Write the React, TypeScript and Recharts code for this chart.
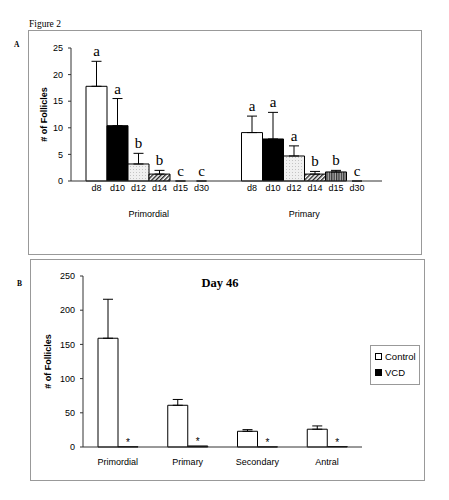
import React from 'react'
import { BarChart, Bar, XAxis, YAxis, ErrorBar, LabelList, Legend, Cell } from 'recharts'

// panel A: follicles by day of dosing
const groupsA = ['Primordial', 'Primary']
const days = ['d8', 'd10', 'd12', 'd14', 'd15', 'd30']
const primordialMean = [17.8, 10.4, 3.2, 1.3, 0, 0]
const primordialSem = [4.7, 5.1, 2.0, 0.7, 0, 0]
const primordialLetters = ['a', 'a', 'b', 'b', 'c', 'c']
const primaryMean = [9.1, 7.9, 4.7, 1.3, 1.7, 0]
const primarySem = [3.1, 5.0, 1.9, 0.5, 0.3, 0]
const primaryLetters = ['a', 'a', 'a', 'b', 'b', 'c']
const ticksA = [0, 5, 10, 15, 20, 25]

// panel B: day 46
const stagesB = ['Primordial', 'Primary', 'Secondary', 'Antral']
const controlMean = [159, 61, 23, 26]
const controlSem = [57, 8.5, 2.4, 4.8]
const vcdMean = [0.4, 1.5, 0.2, 0.7]
const ticksB = [0, 50, 100, 150, 200, 250]

const dayFills = ['#ffffff', '#000000', 'url(#dots)', 'url(#diag)', 'url(#vert)', '#ffffff']

const sans = '"Liberation Sans", Arial, sans-serif'
const serif = '"Liberation Serif", "Times New Roman", serif'
const axisColor = '#333'

const dataA = groupsA.map((g, gi) => {
  const mean = gi === 0 ? primordialMean : primaryMean
  const sem = gi === 0 ? primordialSem : primarySem
  const letters = gi === 0 ? primordialLetters : primaryLetters
  const row: Record<string, any> = { group: g }
  days.forEach((d, i) => {
    row[`m_${d}`] = mean[i]
    row[`e_${d}`] = [0, sem[i]]
    row[`t_${d}`] = sem[i]
    row[`l_${d}`] = letters[i]
  })
  return row
})

const dataB = stagesB.map((s, i) => ({
  stage: s,
  control: controlMean[i],
  controlErr: [0, controlSem[i]],
  vcd: vcdMean[i],
}))

// category boundaries, for the little tick marks between groups
const boundsA = groupsA.map((_, i) => i + 1)
const boundsB = stagesB.map((_, i) => i + 1)

const axisTick = { fontSize: 9, fontFamily: sans, fill: '#000' }

const YLabel = ({ viewBox, dx }: any) => {
  const cx = viewBox.x + dx
  const cy = viewBox.y + viewBox.height / 2
  return (
    <text
      x={cx}
      y={cy}
      transform={`rotate(-90 ${cx} ${cy})`}
      textAnchor="middle"
      dominantBaseline="central"
      fontSize={9}
      fontWeight="bold"
      fontFamily={sans}
      fill="#000"
    >
      # of Follicles
    </text>
  )
}

const GroupTick = ({ x, y, payload, dy }: any) => (
  <text x={x} y={y} dy={dy} textAnchor="middle" fontSize={9} fontFamily={sans} fill="#000">
    {payload.value}
  </text>
)

const LegendBox = () => (
  <div
    style={{
      border: '1px solid #999',
      padding: '3px 3px 3px 4px',
      fontFamily: sans,
      fontSize: 9.5,
      lineHeight: '16px',
      background: '#fff',
    }}
  >
    <div>
      <span style={{ display: 'inline-block', width: 5, height: 5, border: '1px solid #000', marginRight: 3 }} />
      Control
    </div>
    <div>
      <span style={{ display: 'inline-block', width: 7, height: 7, background: '#000', marginRight: 3 }} />
      VCD
    </div>
  </div>
)

export default function App() {
  return (
    <div style={{ position: 'absolute', left: 0, top: 0, width: 449, height: 500, background: '#fff' }}>
      <div style={{ position: 'absolute', left: 29, top: 19, fontFamily: serif, fontSize: 9.5 }}>Figure 2</div>
      <div style={{ position: 'absolute', left: 14, top: 40, fontFamily: serif, fontSize: 7.5, fontWeight: 'bold' }}>A</div>
      <div style={{ position: 'absolute', left: 17, top: 279, fontFamily: serif, fontSize: 7.5, fontWeight: 'bold' }}>B</div>
      <div style={{ position: 'absolute', left: 28, top: 30, width: 392, height: 223, border: '1px solid #999' }} />
      <div style={{ position: 'absolute', left: 30, top: 259, width: 393, height: 220, border: '1px solid #999' }} />

      {/* panel A */}
      <div style={{ position: 'absolute', left: 0, top: 0 }}>
        <BarChart
          width={449}
          height={250}
          data={dataA}
          margin={{ top: 48, right: 67, bottom: 29, left: 41 }}
          barCategoryGap={15}
          barGap={0}
        >
          <defs>
            <pattern id="dots" width="3" height="3" patternUnits="userSpaceOnUse">
              <rect width="3" height="3" fill="#f0f0f0" />
              <rect x="1" y="1" width="1" height="1" fill="#c4c4c4" />
            </pattern>
            <pattern id="diag" width="3" height="3" patternUnits="userSpaceOnUse" patternTransform="rotate(45)">
              <rect width="3" height="3" fill="#ffffff" />
              <rect width="1.4" height="3" fill="#222222" />
            </pattern>
            <pattern id="vert" width="2.4" height="3" patternUnits="userSpaceOnUse">
              <rect width="2.4" height="3" fill="#b0b0b0" />
              <rect width="1.2" height="3" fill="#333333" />
            </pattern>
          </defs>
          <XAxis
            xAxisId="bounds"
            type="number"
            domain={[0, groupsA.length]}
            ticks={boundsA}
            height={0}
            axisLine={false}
            tick={false}
            tickSize={3}
            tickLine={{ stroke: axisColor }}
          />
          <XAxis
            xAxisId="cat"
            dataKey="group"
            height={40}
            tickLine={false}
            tickSize={0}
            tickMargin={0}
            axisLine={{ stroke: axisColor }}
            tick={<GroupTick dy={36} />}
          />
          <YAxis
            width={30}
            domain={[0, 25]}
            ticks={ticksA}
            tickSize={3}
            tickMargin={5}
            axisLine={{ stroke: axisColor }}
            tickLine={{ stroke: axisColor }}
            tick={axisTick}
            label={<YLabel dx={3} />}
          />
          {days.map((d, i) => (
            <Bar
              key={`m_${d}`}
              xAxisId="cat"
              dataKey={`m_${d}`}
              stackId={d}
              fill={dayFills[i]}
              stroke="#000"
              strokeWidth={1}
              minPointSize={0.01}
              isAnimationActive={false}
            >
              {dataA.map((row) => (
                <Cell key={row.group} stroke={row[`m_${d}`] > 0 ? '#000' : 'none'} />
              ))}
              <ErrorBar dataKey={`e_${d}`} width={5} stroke="#000" strokeWidth={1} direction="y" />
              <LabelList
                position="bottom"
                offset={4}
                formatter={() => d}
                style={{ fontSize: 9, fontFamily: sans, fill: '#000' }}
              />
            </Bar>
          ))}
          {days.map((d) => (
            <Bar
              key={`t_${d}`}
              xAxisId="cat"
              dataKey={`t_${d}`}
              stackId={d}
              fill="none"
              stroke="none"
              minPointSize={0.01}
              isAnimationActive={false}
            >
              <LabelList
                dataKey={`l_${d}`}
                position="top"
                offset={5}
                style={{ fontSize: 15, fontFamily: serif, fill: '#000' }}
              />
            </Bar>
          ))}
        </BarChart>
      </div>

      {/* panel B */}
      <div style={{ position: 'absolute', left: 0, top: 250 }}>
        <BarChart
          width={449}
          height={250}
          data={dataB}
          margin={{ top: 26, right: 87, bottom: 23, left: 43 }}
          barCategoryGap={15}
          barGap={0}
        >
          <XAxis
            xAxisId="bounds"
            type="number"
            domain={[0, stagesB.length]}
            ticks={boundsB}
            height={0}
            axisLine={false}
            tick={false}
            tickSize={3}
            tickLine={{ stroke: axisColor }}
          />
          <XAxis
            xAxisId="cat"
            dataKey="stage"
            height={30}
            tickLine={false}
            tickSize={0}
            tickMargin={0}
            axisLine={{ stroke: axisColor }}
            tick={<GroupTick dy={18} />}
          />
          <YAxis
            width={40}
            domain={[0, 250]}
            ticks={ticksB}
            tickSize={3}
            tickMargin={5}
            axisLine={{ stroke: axisColor }}
            tickLine={{ stroke: axisColor }}
            tick={axisTick}
            label={<YLabel dx={5} />}
          />
          <Legend
            layout="vertical"
            align="center"
            verticalAlign="middle"
            content={<LegendBox />}
            wrapperStyle={{ left: 370, top: 95, width: 'auto' }}
          />
          <Bar xAxisId="cat" dataKey="control" name="Control" fill="#fff" stroke="#000" strokeWidth={1} isAnimationActive={false}>
            <ErrorBar dataKey="controlErr" width={5} stroke="#000" strokeWidth={1} direction="y" />
          </Bar>
          <Bar xAxisId="cat" dataKey="vcd" name="VCD" fill="#000" stroke="#000" strokeWidth={1} isAnimationActive={false}>
            <LabelList
              position="top"
              offset={1}
              formatter={() => '*'}
              style={{ fontSize: 10, fontFamily: sans, fill: '#000' }}
            />
          </Bar>
        </BarChart>
      </div>
      <div
        style={{
          position: 'absolute',
          left: 220,
          top: 276,
          transform: 'translateX(-50%)',
          fontFamily: serif,
          fontWeight: 'bold',
          fontSize: 12.5,
        }}
      >
        Day 46
      </div>
    </div>
  )
}
